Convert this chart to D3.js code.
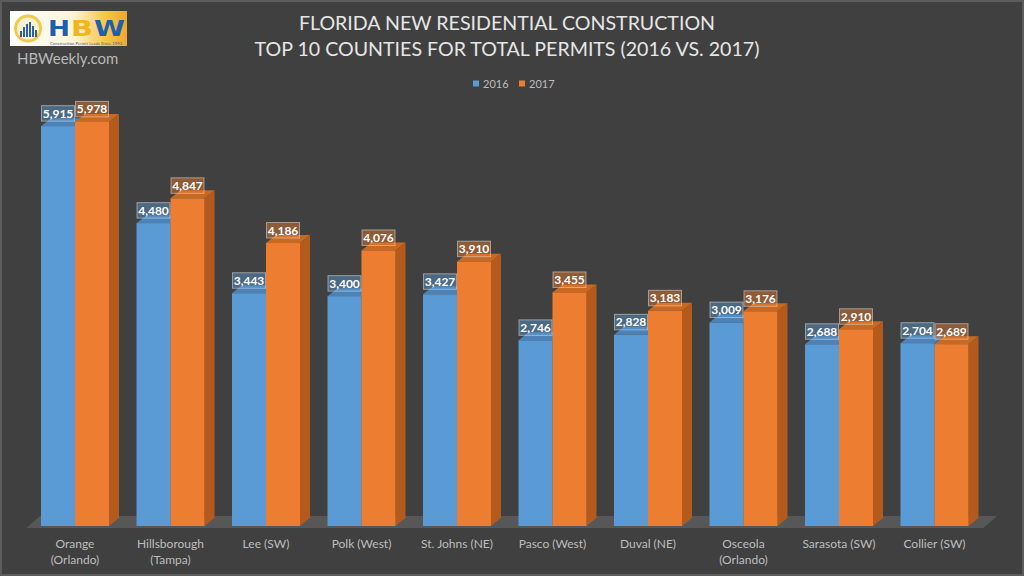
<!DOCTYPE html>
<html><head><meta charset="utf-8">
<script src="https://cdn.jsdelivr.net/npm/d3@7"></script>
<style>html,body{margin:0;padding:0;background:#404040;}svg{display:block;}</style>
</head><body>
<script>
const categories = ["Orange (Orlando)", "Hillsborough (Tampa)", "Lee (SW)", "Polk (West)", "St. Johns (NE)", "Pasco (West)", "Duval (NE)", "Osceola (Orlando)", "Sarasota (SW)", "Collier (SW)"];
const categoryLines = [["Orange","(Orlando)"],["Hillsborough","(Tampa)"],["Lee (SW)"],["Polk (West)"],["St. Johns (NE)"],["Pasco (West)"],["Duval (NE)"],["Osceola","(Orlando)"],["Sarasota (SW)"],["Collier (SW)"]];
const seriesNames = ["2016", "2017"];
const values2016 = [5915, 4480, 3443, 3400, 3427, 2746, 2828, 3009, 2688, 2704];
const values2017 = [5978, 4847, 4186, 4076, 3910, 3455, 3183, 3176, 2910, 2689];
const titleLines = ["FLORIDA NEW RESIDENTIAL CONSTRUCTION", "TOP 10 COUNTIES FOR TOTAL PERMITS (2016 VS. 2017)"];

const W = 1024, H = 576;
const colors = {
  "2016": {front: "#5b9bd5", side: "#3f6f9c", top: "#4b82b8", box: "rgba(91,155,213,0.45)"},
  "2017": {front: "#ed7d31", side: "#b45a1c", top: "#c9681f", box: "rgba(237,125,49,0.45)"}
};
const font = "Lato, 'Open Sans', sans-serif";

const svg = d3.select("body").append("svg").attr("width", W).attr("height", H);
svg.append("rect").attr("x", 1).attr("y", 1).attr("width", W - 2).attr("height", H - 2)
  .attr("fill", "#404040").attr("stroke", "#5c5c5c").attr("stroke-width", 2);

const defs = svg.append("defs");
const lg = defs.append("linearGradient").attr("id", "logoBg").attr("x1", "0").attr("x2", "1").attr("y1", "0").attr("y2", "0");
lg.append("stop").attr("offset", "0").attr("stop-color", "#ffffff");
lg.append("stop").attr("offset", "0.55").attr("stop-color", "#fdf3d6");
lg.append("stop").attr("offset", "0.8").attr("stop-color", "#f7c94a");
lg.append("stop").attr("offset", "1").attr("stop-color", "#f0a82a");

// Logo
const logo = svg.append("g");
logo.append("rect").attr("x", 10).attr("y", 11).attr("width", 117).attr("height", 35).attr("fill", "url(#logoBg)");
logo.append("circle").attr("cx", 28).attr("cy", 28.5).attr("r", 14).attr("fill", "#f3c94d");
logo.append("circle").attr("cx", 28).attr("cy", 28.5).attr("r", 11).attr("fill", "#fbf2cf");
[[-7,6],[-4,10],[-1,13],[2,15],[5,11],[8,7]].forEach(([dx, h]) => {
  logo.append("rect").attr("x", 28 + dx - 1).attr("y", 37 - h).attr("width", 2).attr("height", h).attr("fill", "#2a5fa8");
});
[["H", 48, 22, "#1f5fb0"], ["B", 71, 22, "#f2b51d"], ["W", 94, 31, "#1f5fb0"]].forEach(([t, lx, w, c]) => {
  logo.append("text").attr("x", lx).attr("y", 36).attr("font-family", "'DejaVu Sans', sans-serif").attr("font-weight", "bold")
    .attr("font-size", 21).attr("fill", c).attr("textLength", w).attr("lengthAdjust", "spacingAndGlyphs").text(t);
});
logo.append("text").attr("x", 50).attr("y", 44.8).attr("font-family", font).attr("font-size", 4).attr("fill", "#2a5fa8")
  .attr("textLength", 72).text("Construction Permit Leads Since 1993");
svg.append("text").attr("x", 17).attr("y", 64).attr("font-family", font).attr("font-size", 15).attr("fill", "#b8b8b8").text("HBWeekly.com");

// Title
svg.append("g").selectAll("text").data(titleLines).join("text")
  .attr("x", 507).attr("y", (d, i) => 30 + i * 26).attr("text-anchor", "middle")
  .attr("font-family", font).attr("font-size", 19.6).attr("fill", "#e6e6e6").text(d => d);

// Legend
const legend = svg.append("g");
seriesNames.forEach((s, i) => {
  const lx = 473 + i * 46;
  legend.append("rect").attr("x", lx).attr("y", 80.5).attr("width", 6).attr("height", 6).attr("fill", colors[s].front);
  legend.append("text").attr("x", lx + 10).attr("y", 88).attr("font-family", font).attr("font-size", 11).attr("fill", "#bdbdbd").text(s);
});

// Scales
const x = d3.scaleBand().domain(categories).range([27.25, 982.25]).padding(0);
const xs = d3.scaleBand().domain(seriesNames).range([-34, 34]).padding(0);
const y = d3.scaleLinear().domain([0, 6000]).range([526, 120.4]);
const DX = 10, DY = -8;

// Floor
const fx0 = x.range()[0], fx1 = x.range()[1];
svg.append("polygon")
  .attr("points", [[fx0 - 1, y(0) + 2], [fx1 + 1, y(0) + 2], [fx1 + 15, y(0) - 10], [fx0 + 13, y(0) - 10]].map(p => p.join(",")).join(" "))
  .attr("fill", "#575757");

const fmt = d3.format(",");
const data = categories.map((c, i) => ({cat: c, vals: [{s: "2016", v: values2016[i]}, {s: "2017", v: values2017[i]}]}));

const bars = svg.append("g");
data.forEach(d => {
  const cx = x(d.cat) + x.bandwidth() / 2;
  d.vals.forEach(b => {
    const x0 = cx + xs(b.s), x1 = x0 + xs.bandwidth();
    const yt = y(b.v), yb = y(0);
    const c = colors[b.s];
    bars.append("polygon").attr("points", [[x1, yt], [x1 + DX, yt + DY], [x1 + DX, yb + DY], [x1, yb]].map(p => p.join(",")).join(" ")).attr("fill", c.side);
    bars.append("polygon").attr("points", [[x0, yt], [x1, yt], [x1 + DX, yt + DY], [x0 + DX, yt + DY]].map(p => p.join(",")).join(" ")).attr("fill", c.top);
    bars.append("rect").attr("x", x0).attr("y", yt).attr("width", x1 - x0).attr("height", yb - yt).attr("fill", c.front);
  });
});

// Labels
const labels = svg.append("g");
data.forEach(d => {
  const cx = x(d.cat) + x.bandwidth() / 2;
  d.vals.forEach(b => {
    const x0 = cx + xs(b.s);
    const yt = y(b.v);
    labels.append("rect").attr("x", x0 + 0.5).attr("y", yt - 20.5).attr("width", xs.bandwidth() - 1).attr("height", 15.5)
      .attr("fill", colors[b.s].box).attr("stroke", "rgba(220,220,220,0.55)").attr("stroke-width", 1);
    labels.append("text").attr("x", x0 + xs.bandwidth() / 2).attr("y", yt - 8.5).attr("text-anchor", "middle")
      .attr("font-family", font).attr("font-weight", "bold").attr("font-size", 12).attr("fill", "#ffffff").text(fmt(b.v));
  });
});

// X axis labels
const xl = svg.append("g");
categories.forEach((c, i) => {
  const cx = x(c) + x.bandwidth() / 2;
  categoryLines[i].forEach((line, j) => {
    xl.append("text").attr("x", cx).attr("y", 548 + j * 16).attr("text-anchor", "middle")
      .attr("font-family", font).attr("font-size", 12).attr("fill", "#bdbdbd").text(line);
  });
});
</script>
</body></html>
